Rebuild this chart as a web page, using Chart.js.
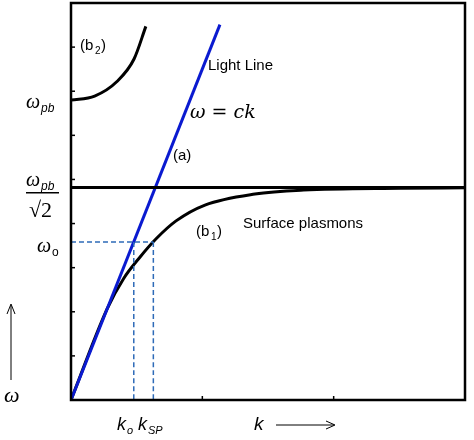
<!DOCTYPE html>
<html><head>
<script src="https://cdn.jsdelivr.net/npm/chart.js@4"></script>
<style>body{margin:0;background:#fff}#wrap{width:474px;height:440px}</style>
</head><body>
<div id="wrap"><canvas id="c"></canvas></div>
<script>
// dispersion curves (k, omega) in tick units
const lightLine = [{x:0,y:0},{x:1.134,y:8.51}];
const surfacePlasmon = [{x:0,y:0},{x:0.276,y:2.07},{x:0.40,y:2.75},{x:0.52,y:3.22},{x:0.65,y:3.66},{x:0.80,y:4.06},{x:1.02,y:4.42},{x:1.40,y:4.67},{x:1.77,y:4.76},{x:2.51,y:4.80},{x:3.0,y:4.81}];
const upperBranch = [{x:0,y:6.8},{x:0.18,y:6.89},{x:0.35,y:7.22},{x:0.48,y:7.73},{x:0.57,y:8.47}];
const asymptote = [{x:0,y:4.82},{x:3,y:4.82}];
const omegaO = 3.58, kO = 0.478, kSP = 0.627;
const dashOmega = [{x:0,y:omegaO},{x:kSP,y:omegaO}];
const dashKo = [{x:kO,y:omegaO},{x:kO,y:0}];
const dashKsp = [{x:kSP,y:omegaO},{x:kSP,y:0}];
const xTicks = [1, 2];
const yTicks = [1, 2, 3, 4, 5, 6, 7, 8];

function ds(data, color, width, dash){
    return {data:data, borderColor:color, borderWidth:width, borderDash:dash||[], pointRadius:0, cubicInterpolationMode:'monotone', fill:false, showLine:true}
}

const labelsPlugin = {
    id:'labels',
    afterDraw(chart){
        const ctx = chart.ctx, xs = chart.scales.x, ys = chart.scales.y
        const a = chart.chartArea
        ctx.save()
        // frame and inward ticks
        ctx.strokeStyle = '#000'; ctx.lineWidth = 2.5
        ctx.strokeRect(a.left, a.top, a.right - a.left, a.bottom - a.top)
        ctx.lineWidth = 1.5
        xTicks.forEach(v => { const p = xs.getPixelForValue(v); ctx.beginPath(); ctx.moveTo(p, a.bottom); ctx.lineTo(p, a.bottom - 4); ctx.stroke() })
        yTicks.forEach(v => { const p = ys.getPixelForValue(v); ctx.beginPath(); ctx.moveTo(a.left, p); ctx.lineTo(a.left + 4, p); ctx.stroke() })

        ctx.fillStyle = '#000'
        ctx.font = '15px Arial'
        ctx.textBaseline = 'alphabetic'
        ctx.fillText('(b', 80, 50); ctx.font = '10px Arial'; ctx.fillText('2', 95, 54); ctx.font='15px Arial'; ctx.fillText(')', 101, 50)
        ctx.fillText('Light Line', 208, 70)
        ctx.fillText('(a)', 173, 160)
        ctx.fillText('(b', 196, 236); ctx.font = '10px Arial'; ctx.fillText('1', 211, 240); ctx.font='15px Arial'; ctx.fillText(')', 217, 236)
        ctx.fillText('Surface plasmons', 243, 228)
        ctx.font = 'italic 19px "DejaVu Serif"'
        ctx.fillText('ω = ck', 190, 118)
        // left labels
        ctx.font = 'italic 20px "Liberation Serif"'
        ctx.fillText('ω', 26, 108); ctx.font = 'italic 12px Arial'; ctx.fillText('pb', 41, 112)
        ctx.font = 'italic 20px "Liberation Serif"'
        ctx.fillText('ω', 26, 186); ctx.font = 'italic 12px Arial'; ctx.fillText('pb', 41, 190)
        ctx.fillRect(26, 192, 33, 1.5)
        ctx.font = '22px "Liberation Serif"'; ctx.fillText('√2', 29, 217)
        ctx.font = 'italic 20px "Liberation Serif"'
        ctx.fillText('ω', 37, 252); ctx.font = '12px Arial'; ctx.fillText('o', 52, 256)
        ctx.font = 'italic 22px "Liberation Serif"'
        ctx.fillText('ω', 4, 402)
        ctx.lineWidth = 1
        ctx.beginPath(); ctx.moveTo(11, 380); ctx.lineTo(11, 306); ctx.stroke()
        ctx.beginPath(); ctx.moveTo(7, 314); ctx.lineTo(11, 304); ctx.lineTo(15, 314); ctx.stroke()
        // bottom labels
        ctx.font = 'italic 18px Arial'
        ctx.fillText('k', 117, 430); ctx.font = 'italic 11px Arial'; ctx.fillText('o', 127, 434)
        ctx.font = 'italic 18px Arial'; ctx.fillText('k', 138, 430); ctx.font = 'italic 11px Arial'; ctx.fillText('SP', 148, 434)
        ctx.font = 'italic 19px Arial'; ctx.fillText('k', 254, 430)
        ctx.beginPath(); ctx.moveTo(276, 425); ctx.lineTo(334, 425); ctx.stroke()
        ctx.beginPath(); ctx.moveTo(326, 421); ctx.lineTo(335, 425); ctx.lineTo(326, 429); ctx.stroke()
        ctx.restore()
    }
}

new Chart(document.getElementById('c'), {
    type:'scatter',
    data:{datasets:[
        ds(dashOmega,'#2e6bb8',1.5,[5,3]),
        ds(dashKo,'#2e6bb8',1.5,[5,3]),
        ds(dashKsp,'#2e6bb8',1.5,[5,3]),
        ds(asymptote,'#000',3),
        ds(lightLine,'#0a1ad0',3),
        ds(surfacePlasmon,'#000',3),
        ds(upperBranch,'#000',3)
    ]},
    options:{
        responsive:true, maintainAspectRatio:false, animation:false,
        layout:{padding:{left:63,right:9,top:3,bottom:32}},
        plugins:{legend:{display:false},tooltip:{enabled:false}},
        scales:{
            x:{type:'linear',min:0,max:3,ticks:{display:false,stepSize:1},
               grid:{display:false},border:{display:false}},
            y:{type:'linear',min:0,max:9,ticks:{display:false,stepSize:1},
               grid:{display:false},border:{display:false}}
        }
    },
    plugins:[labelsPlugin]
});
</script>
</body></html>
